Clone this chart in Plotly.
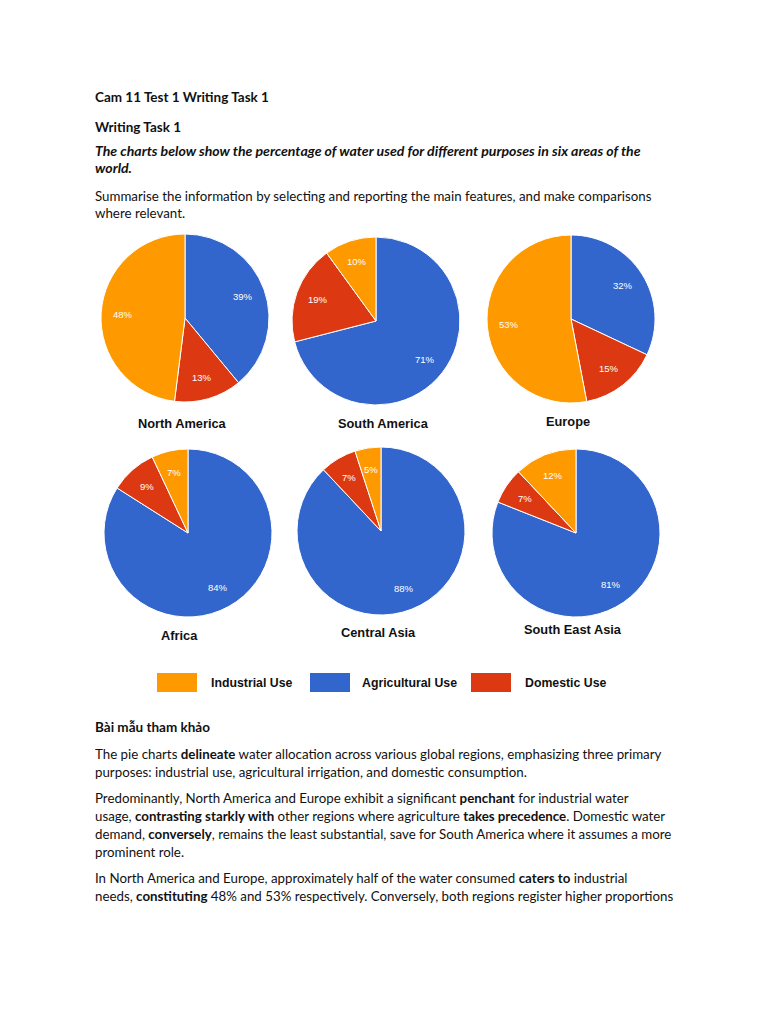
import math
import plotly.graph_objects as go

OFF = 8  # default browser body margin
W, H = 768 - OFF, 1024 - OFF

categories = ["Agricultural Use", "Domestic Use", "Industrial Use"]
colors = ["#3366CC", "#DC3912", "#FF9900"]
regions = ["North America", "South America", "Europe", "Africa", "Central Asia", "South East Asia"]
agricultural = [39, 71, 32, 84, 88, 81]
domestic = [13, 19, 15, 9, 7, 7]
industrial = [48, 10, 53, 7, 5, 12]

legend_order = ["Industrial Use", "Agricultural Use", "Domestic Use"]

# layout: pie centers/radius in page pixels and title positions
pie_centers = [(185, 318), (376, 321), (571, 319), (188, 533), (381, 531), (576, 533)]
pie_radius = 84
label_radius_frac = 0.74
title_pos = [(182, 424), (383, 424), (568, 422), (179, 635), (378, 632), (573, 629)]


def px(x):
    return (x - OFF) / W


def py(y):
    return 1 - (y - OFF) / H


fig = go.Figure()
annotations = []
for i, name in enumerate(regions):
    cx, cy = pie_centers[i]
    r = pie_radius
    vals = [agricultural[i], domestic[i], industrial[i]]
    fig.add_trace(go.Pie(
        labels=categories,
        values=vals,
        marker=dict(colors=colors, line=dict(color="white", width=1)),
        sort=False,
        direction="clockwise",
        rotation=0,
        textinfo="none",
        domain=dict(x=[px(cx - r), px(cx + r)], y=[py(cy + r), py(cy - r)]),
        showlegend=False,
        hoverinfo="label+percent",
        name=name,
    ))
    # percentage labels, placed like the original chart (outer part of each slice)
    total = sum(vals)
    cum = 0.0
    for v in vals:
        mid = (cum + v / 2) / total * 2 * math.pi
        cum += v
        lx = cx + r * label_radius_frac * math.sin(mid)
        ly = cy - r * label_radius_frac * math.cos(mid)
        annotations.append(dict(x=px(lx), y=py(ly), xref="paper", yref="paper",
                                text=f"{round(v / total * 100)}%", showarrow=False,
                                xanchor="center", yanchor="middle",
                                font=dict(family="Liberation Sans, Arial", size=9.5, color="white")))

for i, name in enumerate(regions):
    x, y = title_pos[i]
    annotations.append(dict(x=px(x), y=py(y), xref="paper", yref="paper", text="<b>" + name + "</b>",
                            showarrow=False, xanchor="center", yanchor="middle",
                            font=dict(family="Liberation Sans, Arial", size=12.8, color="#111111")))

BODY = "Lato, Carlito, Calibri, sans-serif"
text_lines = [
    (97, "<b>Cam 11 Test 1 Writing Task 1</b>", 13.5),
    (127, "<b>Writing Task 1</b>", 13.5),
    (151, "<b><i>The charts below show the percentage of water used for different purposes in six areas of the</i></b>", 14.1),
    (168, "<b><i>world.</i></b>", 14.1),
    (196, "Summarise the information by selecting and reporting the main features, and make comparisons", 13.3),
    (213, "where relevant.", 13.3),
    (727, "<b>Bài mẫu tham khảo</b>", 13.5),
    (754, "The pie charts <b>delineate</b> water allocation across various global regions, emphasizing three primary", 13.3),
    (772, "purposes: industrial use, agricultural irrigation, and domestic consumption.", 13.3),
    (798, "Predominantly, North America and Europe exhibit a significant <b>penchant</b> for industrial water", 13.3),
    (816, "usage, <b>contrasting starkly with</b> other regions where agriculture <b>takes precedence</b>. Domestic water", 13.3),
    (834, "demand, <b>conversely</b>, remains the least substantial, save for South America where it assumes a more", 13.3),
    (852, "prominent role.", 13.3),
    (878, "In North America and Europe, approximately half of the water consumed <b>caters to</b> industrial", 13.3),
    (896, "needs, <b>constituting</b> 48% and 53% respectively. Conversely, both regions register higher proportions", 13.3),
]
for y, t, s in text_lines:
    annotations.append(dict(x=px(93), y=py(y), xref="paper", yref="paper", text=t, showarrow=False,
                            xanchor="left", yanchor="middle",
                            font=dict(family=BODY, size=s, color="#111111")))

# legend drawn as swatches + labels
legend_swatch_x = [157, 310, 471]
legend_text_x = [209, 360, 523]
shapes = []
for j, lab in enumerate(legend_order):
    col = colors[categories.index(lab)]
    x0 = legend_swatch_x[j]
    shapes.append(dict(type="rect", xref="paper", yref="paper", x0=px(x0), x1=px(x0 + 40),
                       y0=py(692), y1=py(673), fillcolor=col, line=dict(width=0)))
    annotations.append(dict(x=px(legend_text_x[j]), y=py(683), xref="paper", yref="paper", text="<b>" + lab + "</b>",
                            showarrow=False, xanchor="left", yanchor="middle",
                            font=dict(family="Liberation Sans, Arial", size=12.3, color="#111111")))

fig.update_layout(
    width=W, height=H,
    margin=dict(l=0, r=0, t=0, b=0),
    paper_bgcolor="white", plot_bgcolor="white",
    annotations=annotations, shapes=shapes,
    showlegend=False,
)

fig.write_html("out.html")
